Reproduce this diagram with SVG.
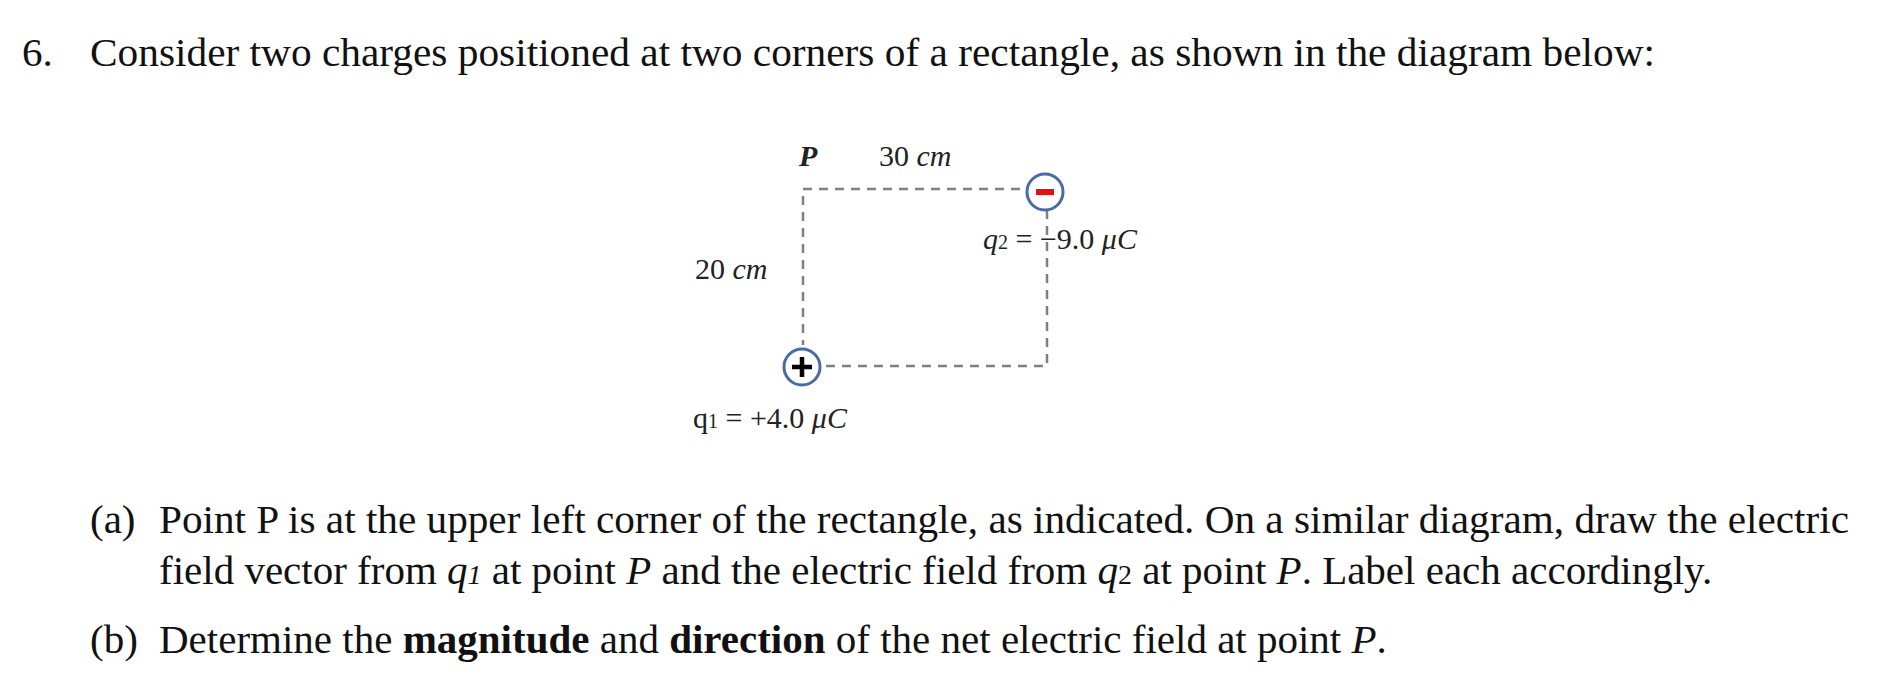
<svg xmlns="http://www.w3.org/2000/svg" width="1880" height="685" viewBox="0 0 1880 685">
<style>
.t{font-family:"Liberation Serif",serif;font-size:41px;fill:#111}
.d{font-family:"Liberation Serif",serif;font-size:30px;fill:#222}
.i{font-style:italic}
.dash{stroke:#808080;stroke-width:2.5;stroke-dasharray:9 7;fill:none}
.ch{fill:#fff;stroke:#4a6aa8;stroke-width:3}
</style>
<rect width="1880" height="685" fill="#fff"/>
<text class="t" x="22" y="66">6.</text>
<text class="t" x="90" y="66" textLength="1565" lengthAdjust="spacingAndGlyphs">Consider two charges positioned at two corners of a rectangle, as shown in the diagram below:</text>
<g id="connectors">
<path class="dash" d="M803 189 H1025"/>
<path class="dash" d="M803 196 V345"/>
<path class="dash" d="M826 366 H1047 V210"/>
</g>
<g id="q1"><circle class="ch" cx="802" cy="367" r="18"/><path d="M802 357 V377 M792 367 H812" stroke="#000" stroke-width="4.5"/></g>
<g id="q2"><circle class="ch" cx="1045" cy="192" r="18"/><rect x="1036" y="189" width="18" height="6" fill="#e01010"/></g>
<g id="labels">
<text class="d i" x="799" y="166" font-weight="bold">P</text>
<text class="d" x="879" y="166">30 <tspan class="i">cm</tspan></text>
<text class="d" x="695" y="279">20 <tspan class="i">cm</tspan></text>
<text class="d" x="983" y="249"><tspan class="i">q</tspan><tspan font-size="20">2</tspan> = −9.0 <tspan class="i">μC</tspan></text>
<text class="d" x="693" y="428">q<tspan font-size="20">1</tspan> = +4.0 <tspan class="i">μC</tspan></text>
</g>
<text class="t" x="90" y="533">(a)</text>
<text class="t" x="159" y="533" textLength="1690" lengthAdjust="spacingAndGlyphs">Point P is at the upper left corner of the rectangle, as indicated. On a similar diagram, draw the electric</text>
<text class="t" x="159" y="584">field vector from <tspan class="i">q</tspan><tspan class="i" font-size="28">1</tspan> at point <tspan class="i">P</tspan> and the electric field from <tspan class="i">q</tspan><tspan font-size="28">2</tspan> at point <tspan class="i">P</tspan>. Label each accordingly.</text>
<text class="t" x="90" y="653">(b)</text>
<text class="t" x="159" y="653">Determine the <tspan font-weight="bold">magnitude</tspan> and <tspan font-weight="bold">direction</tspan> of the net electric field at point <tspan class="i">P</tspan>.</text>
</svg>
